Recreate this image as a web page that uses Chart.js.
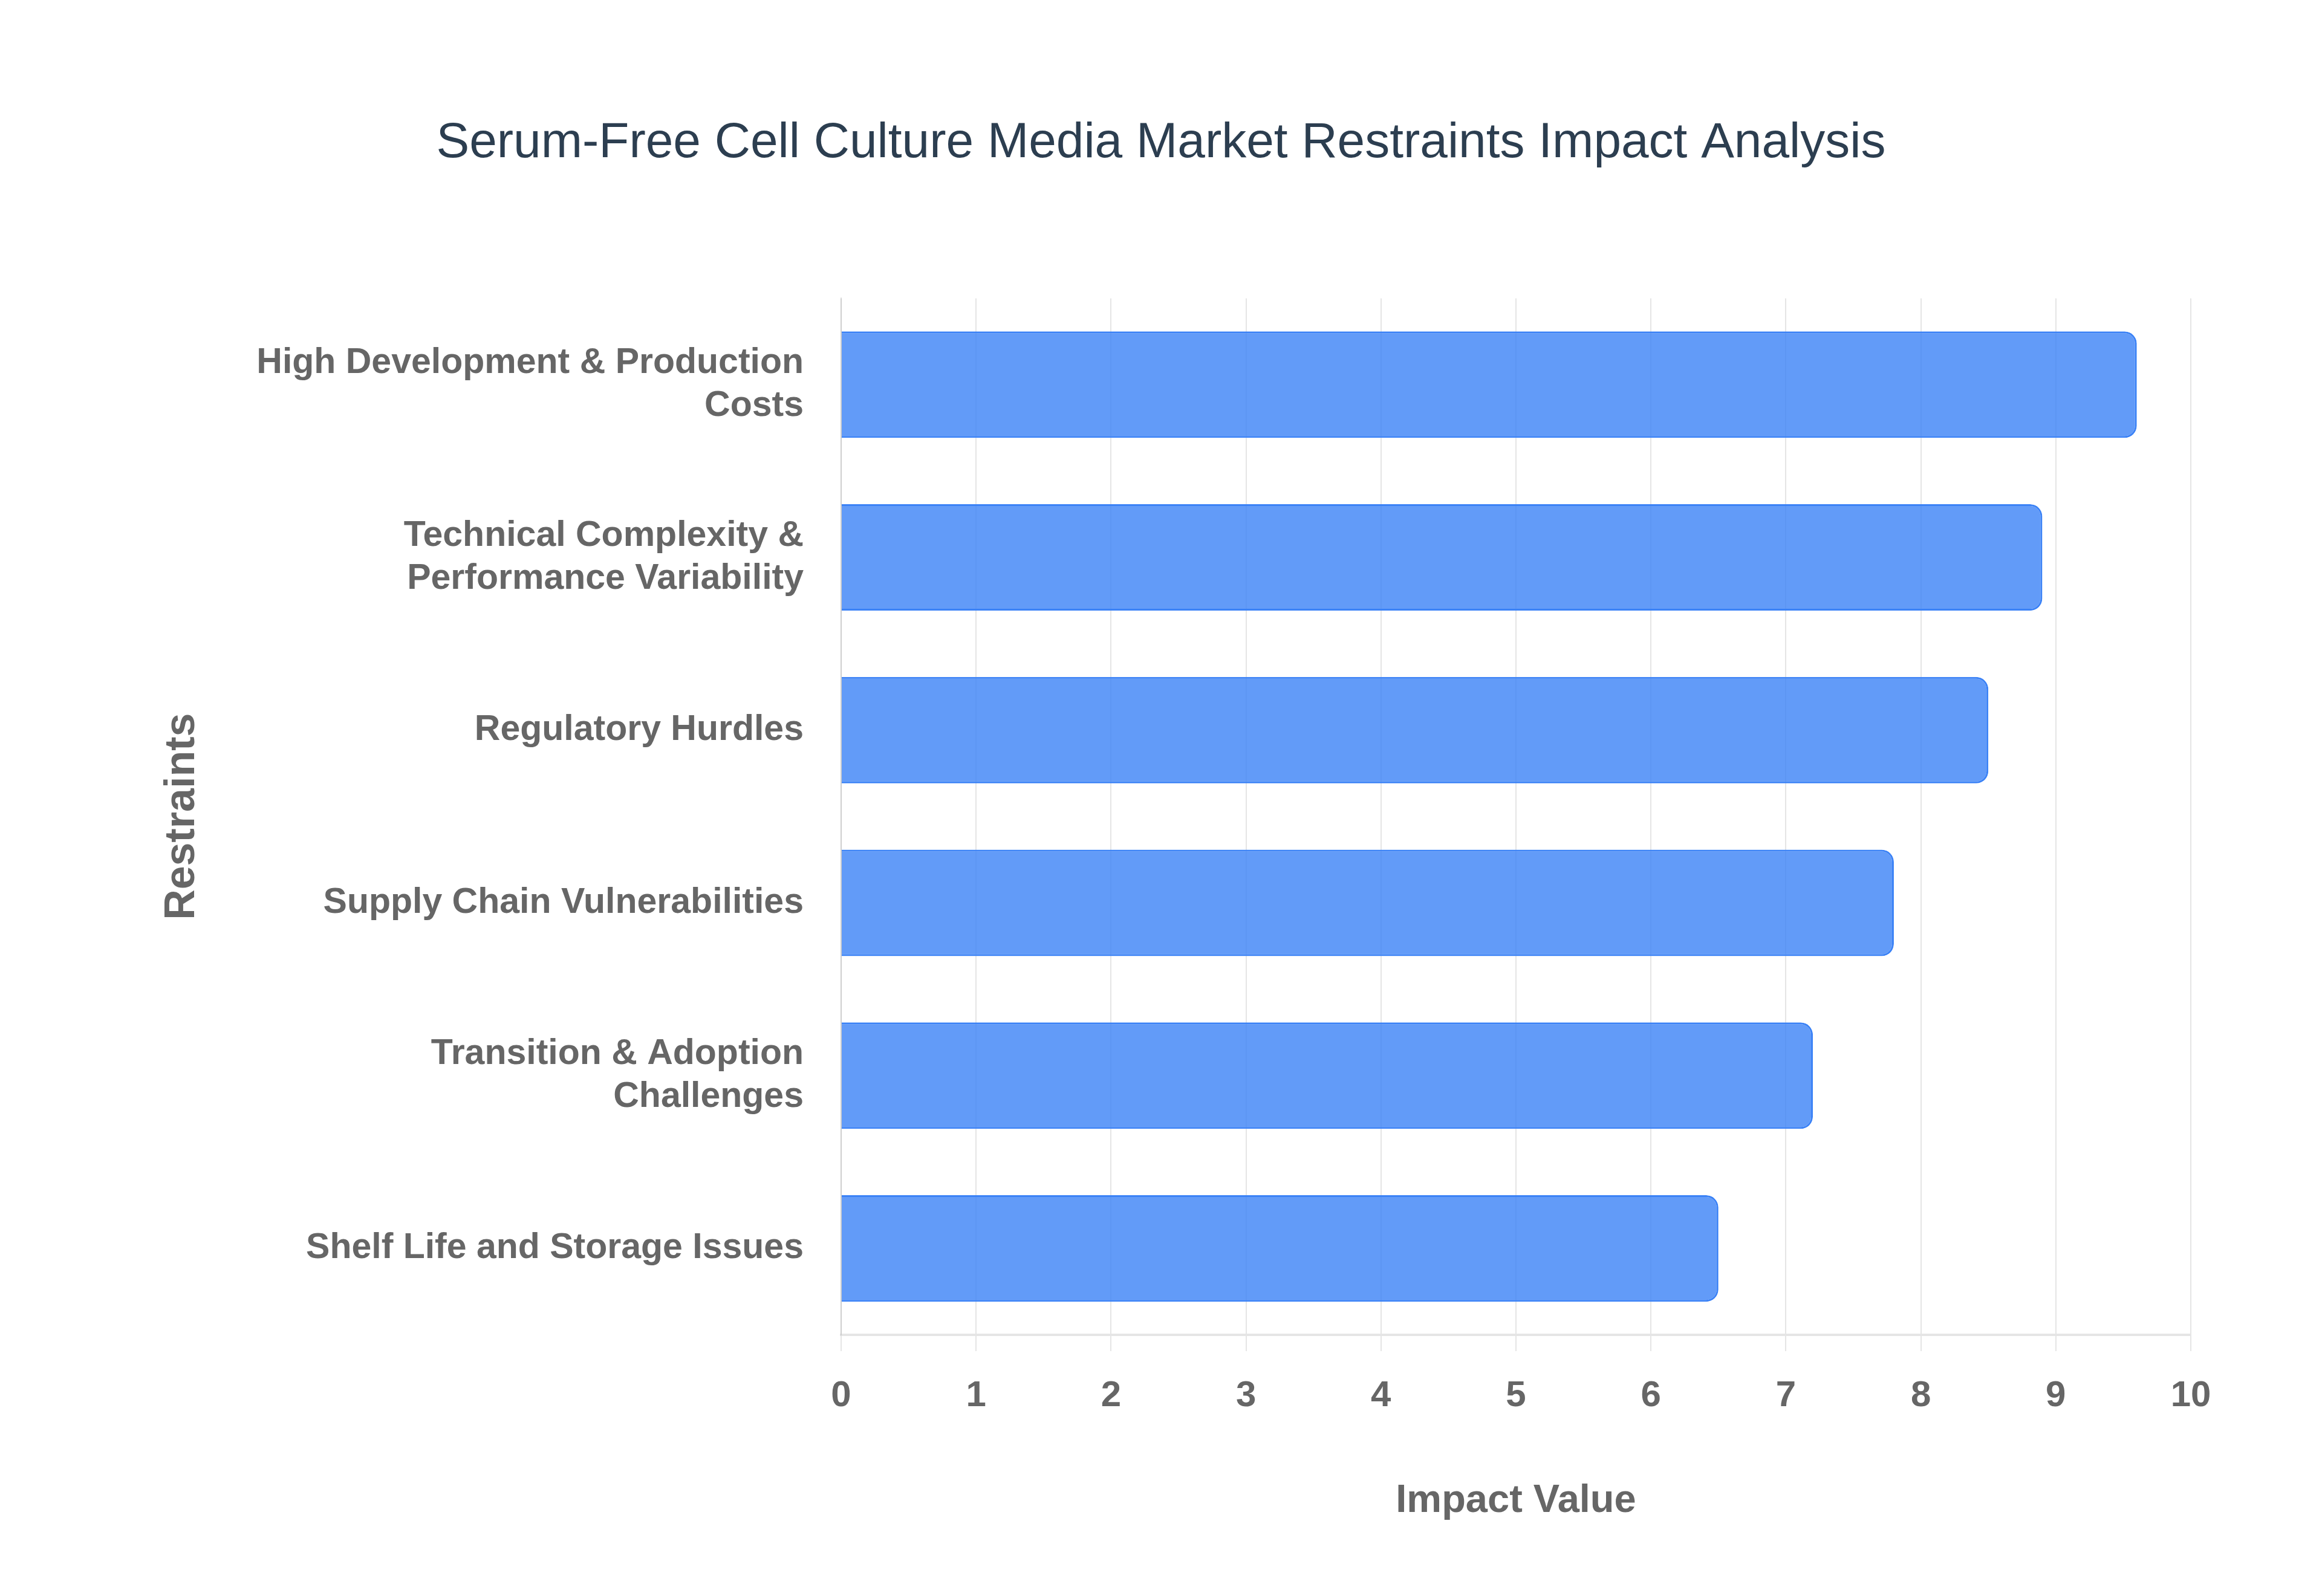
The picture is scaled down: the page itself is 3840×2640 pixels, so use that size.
<!DOCTYPE html>
<html>
<head>
<meta charset="utf-8">
<title>Serum-Free Cell Culture Media Market Restraints</title>
<script src="https://cdn.jsdelivr.net/npm/chart.js@4.4.1/dist/chart.umd.min.js"></script>
<style>
  html, body { margin: 0; padding: 0; background: #ffffff; }
  canvas { display: block; }
</style>
</head>
<body>
<canvas id="restraints" width="3840" height="2640"></canvas>
<script>
// restraints, top to bottom (multi-line labels as arrays)
const restraintLabels = [
  ["High Development & Production", "Costs"],
  ["Technical Complexity &", "Performance Variability"],
  "Regulatory Hurdles",
  "Supply Chain Vulnerabilities",
  ["Transition & Adoption", "Challenges"],
  "Shelf Life and Storage Issues"
];

// impact values
const impactValues = [9.6, 8.9, 8.5, 7.8, 7.2, 6.5];

// x axis range / ticks
const xMin = 0;
const xMax = 10;
const xStep = 1;

const chartTitle = "Serum-Free Cell Culture Media Market Restraints Impact Analysis";
const xTitle = "Impact Value";
const yTitle = "Restraints";

const fontFamily = "'Liberation Sans', Arial, Helvetica, sans-serif";
const gridColor = "rgba(0,0,0,0.1)";

const data = {
  labels: restraintLabels,
  datasets: [
    {
      label: "Impact Value",
      data: impactValues,
      backgroundColor: "rgba(59,130,246,0.8)",
      borderColor: "rgba(59,130,246,1)",
      borderWidth: 3,
      borderRadius: 20,
      borderSkipped: "start",
      categoryPercentage: 0.8,
      barPercentage: 0.77
    }
  ]
};

const config = {
  type: "bar",
  data,
  options: {
    indexAxis: "y",
    responsive: false,
    animation: false,
    devicePixelRatio: 1,
    // same padding both sides so the title sits in the middle of the page
    layout: {
      padding: { left: 40, right: 40, top: 40, bottom: 40 }
    },
    plugins: {
      legend: { display: false },
      tooltip: { enabled: false },
      title: {
        display: true,
        text: chartTitle,
        color: "#2c3e50",
        font: { family: fontFamily, size: 82, weight: "normal" },
        padding: { top: 148, bottom: 207 }
      }
    },
    scales: {
      x: {
        min: xMin,
        max: xMax,
        ticks: {
          stepSize: xStep,
          color: "#666666",
          padding: 38,
          font: { family: fontFamily, size: 60, weight: "bold" }
        },
        grid: {
          color: gridColor,
          lineWidth: 2,
          tickLength: 27
        },
        border: { color: gridColor, width: 4 },
        title: {
          display: true,
          text: xTitle,
          color: "#666666",
          font: { family: fontFamily, size: 65, weight: "bold" },
          padding: { top: 20, bottom: 78 }
        },
        afterFit: (scale) => { scale.height = 392; }
      },
      y: {
        ticks: {
          color: "#666666",
          padding: 62,
          font: { family: fontFamily, size: 59, weight: "bold" }
        },
        grid: { display: false, drawTicks: false },
        border: { display: true, color: gridColor, width: 2 },
        title: {
          display: true,
          text: yTitle,
          color: "#666666",
          font: { family: fontFamily, size: 70, weight: "bold" },
          padding: { top: 220, bottom: 20 }
        },
        afterFit: (scale) => { scale.width = 1351; }
      },
      // empty spacer on the right, keeps the plot where it was
      yRight: {
        type: "category",
        position: "right",
        ticks: { display: false },
        grid: { display: false, drawTicks: false },
        border: { display: false },
        afterFit: (scale) => { scale.width = 177; }
      }
    }
  }
};

const canvas = document.getElementById("restraints");
const restraintsChart = new Chart(canvas, config);
</script>
</body>
</html>
